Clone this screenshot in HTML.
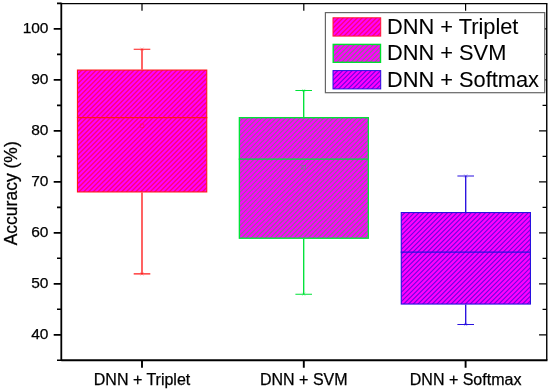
<!DOCTYPE html><html><head><meta charset="utf-8"><title>Accuracy box plot</title>
<style>html,body{margin:0;padding:0;background:#fff}svg{display:block}text{font-family:"Liberation Sans",Arial,sans-serif;fill:#000;stroke:#000;stroke-width:0.25px}</style></head><body>
<svg width="550" height="389" viewBox="0 0 550 389">
<rect width="550" height="389" fill="#fff"/>
<path d="M142.0,49.2 V69.5 M142.0,192.5 V273.9" stroke="#ff1818" stroke-width="1.35" fill="none"/>
<path d="M133.7,49.2 h16.6 M133.7,273.9 h16.6" stroke="#ff1818" stroke-width="1.1" fill="none"/>
<path d="M140.4,47.6 l3.2,3.2 m0,-3.2 l-3.2,3.2 M140.4,272.29999999999995 l3.2,3.2 m0,-3.2 l-3.2,3.2" stroke="#ff1818" stroke-width="0.6" stroke-opacity="0.6" fill="none"/>
<clipPath id="c1"><rect x="77.45" y="70.05" width="129.3" height="121.9"/></clipPath>
<rect x="77.45" y="70.05" width="129.3" height="121.9" fill="#ff00ff"/>
<path d="M-45.7,192.95L78.2,69.05M-40.95,192.95L82.95,69.05M-36.2,192.95L87.7,69.05M-31.45,192.95L92.45,69.05M-26.7,192.95L97.2,69.05M-21.95,192.95L101.95,69.05M-17.2,192.95L106.7,69.05M-12.45,192.95L111.45,69.05M-7.7,192.95L116.2,69.05M-2.95,192.95L120.95,69.05M1.8,192.95L125.7,69.05M6.55,192.95L130.45,69.05M11.3,192.95L135.2,69.05M16.05,192.95L139.95,69.05M20.8,192.95L144.7,69.05M25.55,192.95L149.45,69.05M30.3,192.95L154.2,69.05M35.05,192.95L158.95,69.05M39.8,192.95L163.7,69.05M44.55,192.95L168.45,69.05M49.3,192.95L173.2,69.05M54.05,192.95L177.95,69.05M58.8,192.95L182.7,69.05M63.55,192.95L187.45,69.05M68.3,192.95L192.2,69.05M73.05,192.95L196.95,69.05M77.8,192.95L201.7,69.05M82.55,192.95L206.45,69.05M87.3,192.95L211.2,69.05M92.05,192.95L215.95,69.05M96.8,192.95L220.7,69.05M101.55,192.95L225.45,69.05M106.3,192.95L230.2,69.05M111.05,192.95L234.95,69.05M115.8,192.95L239.7,69.05M120.55,192.95L244.45,69.05M125.3,192.95L249.2,69.05M130.05,192.95L253.95,69.05M134.8,192.95L258.7,69.05M139.55,192.95L263.45,69.05M144.3,192.95L268.2,69.05M149.05,192.95L272.95,69.05M153.8,192.95L277.7,69.05M158.55,192.95L282.45,69.05M163.3,192.95L287.2,69.05M168.05,192.95L291.95,69.05M172.8,192.95L296.7,69.05M177.55,192.95L301.45,69.05M182.3,192.95L306.2,69.05M187.05,192.95L310.95,69.05M191.8,192.95L315.7,69.05M196.55,192.95L320.45,69.05M201.3,192.95L325.2,69.05M206.05,192.95L329.95,69.05" clip-path="url(#c1)" stroke="#ff0000" stroke-width="1.35" stroke-opacity="0.52" fill="none"/>
<rect x="77.45" y="70.05" width="129.3" height="121.9" fill="none" stroke="#ff1818" stroke-width="1.1"/>
<path d="M76.9,117.5 H207.3" stroke="#ff1818" stroke-width="1.25" fill="none"/>
<rect x="140.2" y="124.0" width="3.6" height="3.6" stroke="#ff1818" stroke-width="0.7" stroke-opacity="0.55" fill="none"/>
<path d="M303.7,90.5 V117.0 M303.7,238.9 V294.2" stroke="#00e238" stroke-width="1.35" fill="none"/>
<path d="M295.4,90.5 h16.6 M295.4,294.2 h16.6" stroke="#00e238" stroke-width="1.1" fill="none"/>
<path d="M302.09999999999997,88.9 l3.2,3.2 m0,-3.2 l-3.2,3.2 M302.09999999999997,292.59999999999997 l3.2,3.2 m0,-3.2 l-3.2,3.2" stroke="#00e238" stroke-width="0.6" stroke-opacity="0.6" fill="none"/>
<clipPath id="c2"><rect x="239.38" y="117.67" width="128.95" height="120.55"/></clipPath>
<rect x="239.38" y="117.67" width="128.95" height="120.55" fill="#ff00ff"/>
<path d="M117.03,239.22L239.58,116.67M121.78,239.22L244.33,116.67M126.53,239.22L249.08,116.67M131.28,239.22L253.83,116.67M136.03,239.22L258.58,116.67M140.78,239.22L263.33,116.67M145.53,239.22L268.08,116.67M150.28,239.22L272.83,116.67M155.03,239.22L277.58,116.67M159.78,239.22L282.33,116.67M164.53,239.22L287.08,116.67M169.28,239.22L291.83,116.67M174.03,239.22L296.58,116.67M178.78,239.22L301.33,116.67M183.53,239.22L306.08,116.67M188.28,239.22L310.83,116.67M193.03,239.22L315.58,116.67M197.78,239.22L320.33,116.67M202.53,239.22L325.08,116.67M207.28,239.22L329.83,116.67M212.03,239.22L334.58,116.67M216.78,239.22L339.33,116.67M221.53,239.22L344.08,116.67M226.28,239.22L348.83,116.67M231.03,239.22L353.58,116.67M235.78,239.22L358.33,116.67M240.53,239.22L363.08,116.67M245.28,239.22L367.83,116.67M250.03,239.22L372.58,116.67M254.78,239.22L377.33,116.67M259.53,239.22L382.08,116.67M264.28,239.22L386.83,116.67M269.03,239.22L391.58,116.67M273.78,239.22L396.33,116.67M278.53,239.22L401.08,116.67M283.28,239.22L405.83,116.67M288.03,239.22L410.58,116.67M292.78,239.22L415.33,116.67M297.53,239.22L420.08,116.67M302.28,239.22L424.83,116.67M307.03,239.22L429.58,116.67M311.78,239.22L434.33,116.67M316.53,239.22L439.08,116.67M321.28,239.22L443.83,116.67M326.03,239.22L448.58,116.67M330.78,239.22L453.33,116.67M335.53,239.22L458.08,116.67M340.28,239.22L462.83,116.67M345.03,239.22L467.58,116.67M349.78,239.22L472.33,116.67M354.53,239.22L477.08,116.67M359.28,239.22L481.83,116.67M364.03,239.22L486.58,116.67M368.78,239.22L491.33,116.67" clip-path="url(#c2)" stroke="#30c830" stroke-width="1.2" stroke-opacity="0.57" fill="none"/>
<rect x="239.38" y="117.67" width="128.95" height="120.55" fill="none" stroke="#00e238" stroke-width="1.35"/>
<path d="M238.7,159.2 H369.0" stroke="#00e238" stroke-width="1.25" fill="none"/>
<rect x="301.9" y="165.39999999999998" width="3.6" height="3.6" stroke="#00e238" stroke-width="0.7" stroke-opacity="0.55" fill="none"/>
<path d="M465.7,176.0 V212.0 M465.7,304.6 V324.5" stroke="#2810e0" stroke-width="1.35" fill="none"/>
<path d="M457.4,176.0 h16.6 M457.4,324.5 h16.6" stroke="#2810e0" stroke-width="1.1" fill="none"/>
<path d="M464.09999999999997,174.4 l3.2,3.2 m0,-3.2 l-3.2,3.2 M464.09999999999997,322.9 l3.2,3.2 m0,-3.2 l-3.2,3.2" stroke="#2810e0" stroke-width="0.6" stroke-opacity="0.6" fill="none"/>
<clipPath id="c3"><rect x="401.25" y="212.55" width="129.2" height="91.5"/></clipPath>
<rect x="401.25" y="212.55" width="129.2" height="91.5" fill="#ff00ff"/>
<path d="M307.7,305.05L401.2,211.55M312.45,305.05L405.95,211.55M317.2,305.05L410.7,211.55M321.95,305.05L415.45,211.55M326.7,305.05L420.2,211.55M331.45,305.05L424.95,211.55M336.2,305.05L429.7,211.55M340.95,305.05L434.45,211.55M345.7,305.05L439.2,211.55M350.45,305.05L443.95,211.55M355.2,305.05L448.7,211.55M359.95,305.05L453.45,211.55M364.7,305.05L458.2,211.55M369.45,305.05L462.95,211.55M374.2,305.05L467.7,211.55M378.95,305.05L472.45,211.55M383.7,305.05L477.2,211.55M388.45,305.05L481.95,211.55M393.2,305.05L486.7,211.55M397.95,305.05L491.45,211.55M402.7,305.05L496.2,211.55M407.45,305.05L500.95,211.55M412.2,305.05L505.7,211.55M416.95,305.05L510.45,211.55M421.7,305.05L515.2,211.55M426.45,305.05L519.95,211.55M431.2,305.05L524.7,211.55M435.95,305.05L529.45,211.55M440.7,305.05L534.2,211.55M445.45,305.05L538.95,211.55M450.2,305.05L543.7,211.55M454.95,305.05L548.45,211.55M459.7,305.05L553.2,211.55M464.45,305.05L557.95,211.55M469.2,305.05L562.7,211.55M473.95,305.05L567.45,211.55M478.7,305.05L572.2,211.55M483.45,305.05L576.95,211.55M488.2,305.05L581.7,211.55M492.95,305.05L586.45,211.55M497.7,305.05L591.2,211.55M502.45,305.05L595.95,211.55M507.2,305.05L600.7,211.55M511.95,305.05L605.45,211.55M516.7,305.05L610.2,211.55M521.45,305.05L614.95,211.55M526.2,305.05L619.7,211.55M530.95,305.05L624.45,211.55" clip-path="url(#c3)" stroke="#0000c8" stroke-width="1.15" stroke-opacity="0.55" fill="none"/>
<rect x="401.25" y="212.55" width="129.2" height="91.5" fill="none" stroke="#2810e0" stroke-width="1.1"/>
<path d="M400.7,252.1 H531.0" stroke="#2810e0" stroke-width="1.25" fill="none"/>
<g stroke="#000" fill="none" stroke-linecap="butt">
<path d="M61.3,2.8600000000000003 V361.07" stroke-width="1.8"/>
<path d="M61.3,360.27 H547.45" stroke-width="1.9"/>
<path d="M61.3,3.66 H547.45" stroke-width="1.3"/>
<path d="M546.75,3.66 V360.27" stroke-width="1.4"/>
<path d="M53.699999999999996,334.78 H61.3 M53.699999999999996,283.8 H61.3 M53.699999999999996,232.82 H61.3 M53.699999999999996,181.84 H61.3 M53.699999999999996,130.86 H61.3 M53.699999999999996,79.88 H61.3 M53.699999999999996,28.9 H61.3 " stroke-width="1.7"/>
<path d="M57.0,360.27 H61.3 M57.0,309.29 H61.3 M57.0,258.31 H61.3 M57.0,207.33 H61.3 M57.0,156.35 H61.3 M57.0,105.37 H61.3 M57.0,54.39 H61.3 M57.0,3.41 H61.3 " stroke-width="1.6"/>
<path d="M539.05,334.78 H546.75 M539.05,283.8 H546.75 M539.05,232.82 H546.75 M539.05,181.84 H546.75 M539.05,130.86 H546.75 M539.05,79.88 H546.75 M539.05,28.9 H546.75 M542.55,309.29 H546.75 M542.55,258.31 H546.75 M542.55,207.33 H546.75 M542.55,156.35 H546.75 M542.55,105.37 H546.75 M542.55,54.39 H546.75 " stroke-width="1.2"/>
<path d="M142,360.27 V367.77 M303.8,360.27 V367.77 M465.6,360.27 V367.77 " stroke-width="1.9"/>
<path d="M142,3.66 V10.66 M303.8,3.66 V10.66 M465.6,3.66 V10.66 " stroke-width="1.2"/>
</g>
<text x="48.5" y="338.88" font-size="15.5" text-anchor="end">40</text>
<text x="48.5" y="287.9" font-size="15.5" text-anchor="end">50</text>
<text x="48.5" y="236.92" font-size="15.5" text-anchor="end">60</text>
<text x="48.5" y="185.94" font-size="15.5" text-anchor="end">70</text>
<text x="48.5" y="134.96" font-size="15.5" text-anchor="end">80</text>
<text x="48.5" y="83.98" font-size="15.5" text-anchor="end">90</text>
<text x="48.5" y="33.0" font-size="15.5" text-anchor="end">100</text>
<text x="142" y="385.2" font-size="16" text-anchor="middle">DNN + Triplet</text>
<text x="303.8" y="385.2" font-size="16" text-anchor="middle">DNN + SVM</text>
<text x="465.6" y="385.2" font-size="16" text-anchor="middle">DNN + Softmax</text>
<text transform="translate(16.6,193.3) rotate(-90)" font-size="17.5" text-anchor="middle">Accuracy (%)</text>
<rect x="325.4" y="12.6" width="219.3" height="80.1" fill="#fff" stroke="#666" stroke-width="1.2"/>
<clipPath id="c4"><rect x="333.0" y="17.8" width="47.7" height="18.3"/></clipPath>
<rect x="333.0" y="17.8" width="47.7" height="18.3" fill="#ff00ff"/>
<path d="M309.65,37.1L329.95,16.8M314.4,37.1L334.7,16.8M319.15,37.1L339.45,16.8M323.9,37.1L344.2,16.8M328.65,37.1L348.95,16.8M333.4,37.1L353.7,16.8M338.15,37.1L358.45,16.8M342.9,37.1L363.2,16.8M347.65,37.1L367.95,16.8M352.4,37.1L372.7,16.8M357.15,37.1L377.45,16.8M361.9,37.1L382.2,16.8M366.65,37.1L386.95,16.8M371.4,37.1L391.7,16.8M376.15,37.1L396.45,16.8M380.9,37.1L401.2,16.8" clip-path="url(#c4)" stroke="#ff0000" stroke-width="1.35" stroke-opacity="0.52" fill="none"/>
<rect x="333.0" y="17.8" width="47.7" height="18.3" fill="none" stroke="#ff1830" stroke-width="1.0"/>
<text x="387" y="33.95" font-size="21.8" style="stroke-width:0.08px">DNN + Triplet</text>
<clipPath id="c5"><rect x="333.2" y="44.4" width="47.3" height="17.9"/></clipPath>
<rect x="333.2" y="44.4" width="47.3" height="17.9" fill="#ff00ff"/>
<path d="M311.95,63.3L331.85,43.4M316.7,63.3L336.6,43.4M321.45,63.3L341.35,43.4M326.2,63.3L346.1,43.4M330.95,63.3L350.85,43.4M335.7,63.3L355.6,43.4M340.45,63.3L360.35,43.4M345.2,63.3L365.1,43.4M349.95,63.3L369.85,43.4M354.7,63.3L374.6,43.4M359.45,63.3L379.35,43.4M364.2,63.3L384.1,43.4M368.95,63.3L388.85,43.4M373.7,63.3L393.6,43.4M378.45,63.3L398.35,43.4M383.2,63.3L403.1,43.4" clip-path="url(#c5)" stroke="#30c830" stroke-width="1.2" stroke-opacity="0.57" fill="none"/>
<rect x="333.2" y="44.4" width="47.3" height="17.9" fill="none" stroke="#00e030" stroke-width="1.4"/>
<text x="387" y="60.35" font-size="21.8" style="stroke-width:0.08px">DNN + SVM</text>
<clipPath id="c6"><rect x="333.0" y="70.6" width="47.7" height="18.3"/></clipPath>
<rect x="333.0" y="70.6" width="47.7" height="18.3" fill="#ff00ff"/>
<path d="M309.1,89.9L329.4,69.6M313.85,89.9L334.15,69.6M318.6,89.9L338.9,69.6M323.35,89.9L343.65,69.6M328.1,89.9L348.4,69.6M332.85,89.9L353.15,69.6M337.6,89.9L357.9,69.6M342.35,89.9L362.65,69.6M347.1,89.9L367.4,69.6M351.85,89.9L372.15,69.6M356.6,89.9L376.9,69.6M361.35,89.9L381.65,69.6M366.1,89.9L386.4,69.6M370.85,89.9L391.15,69.6M375.6,89.9L395.9,69.6M380.35,89.9L400.65,69.6" clip-path="url(#c6)" stroke="#0000c8" stroke-width="1.15" stroke-opacity="0.55" fill="none"/>
<rect x="333.0" y="70.6" width="47.7" height="18.3" fill="none" stroke="#2810e0" stroke-width="1.0"/>
<text x="387" y="86.75" font-size="21.8" style="stroke-width:0.08px">DNN + Softmax</text>
</svg></body></html>
